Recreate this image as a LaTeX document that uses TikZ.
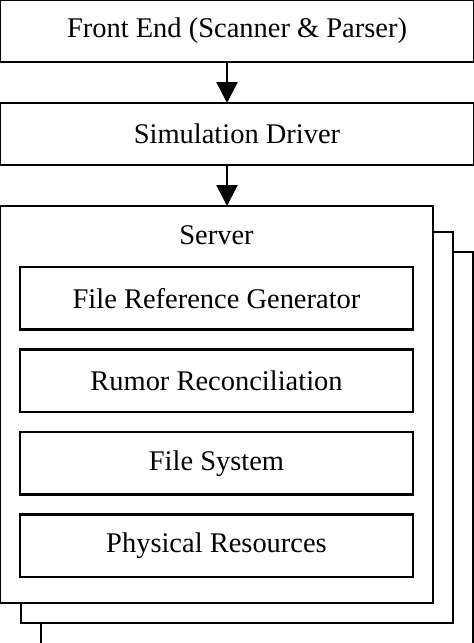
\documentclass[tikz,border=0pt]{standalone}
\usepackage{fontspec}
\setmainfont{Liberation Serif}
\usetikzlibrary{positioning,arrows.meta,backgrounds}

\begin{document}
\begin{tikzpicture}[
  node distance=8.2mm,
  line width=1.4pt,
  stage/.style={draw, fill=white, minimum width=94.8mm, minimum height=12.4mm, inner sep=0pt, outer sep=0pt, font=\fontsize{16.2}{19}\selectfont},
  part/.style={draw, fill=white, minimum width=78.6mm, minimum height=12.5mm, inner sep=0pt, outer sep=0pt, font=\fontsize{16.2}{19}\selectfont},
  srvbox/.style={draw, fill=white, minimum width=86.6mm, minimum height=79.4mm, inner sep=0pt, outer sep=0pt},
  copybox/.style={draw, fill=white, line width=1.4pt},
  flow/.style={-{Triangle[width=4.2mm,length=4.2mm]}},
]
\useasboundingbox (0,0) rectangle (94.8mm,-128.6mm);
\node[stage] (fe) at (47.4mm,-6.2mm) {Front End (Scanner \& Parser)};
\node[stage, below=of fe] (sim) {Simulation Driver};
\node[srvbox, below=8.2mm of sim.south west, anchor=north west] (srv) {};
\node[font=\fontsize{16.2}{19}\selectfont] (srvname) at ([yshift=-5.8mm]srv.north) {Server};
\node[part, below=12.2mm of srv.north] (fref) {File Reference Generator};
\node[part, below=4mm of fref] (rumor) {Rumor Reconciliation};
\node[part, below=4mm of rumor] (fsys) {File System};
\node[part, below=4mm of fsys] (phys) {Physical Resources};
% copies of the server behind the front one
\begin{scope}[on background layer]
\draw[copybox] ([shift={(8.2mm,-9.2mm)}]srv.north west) rectangle ([shift={(8mm,-9.2mm)}]srv.south east);
\draw[copybox] ([shift={(4.2mm,-5.2mm)}]srv.north west) rectangle ([shift={(4mm,-4mm)}]srv.south east);
\end{scope}
\draw[flow] ([xshift=-2mm]fe.south) -- ([xshift=-2mm]sim.north);
\draw[flow] ([xshift=-2mm]sim.south) -- ([xshift=-2mm]sim.south |- srv.north);
\end{tikzpicture}
\end{document}
